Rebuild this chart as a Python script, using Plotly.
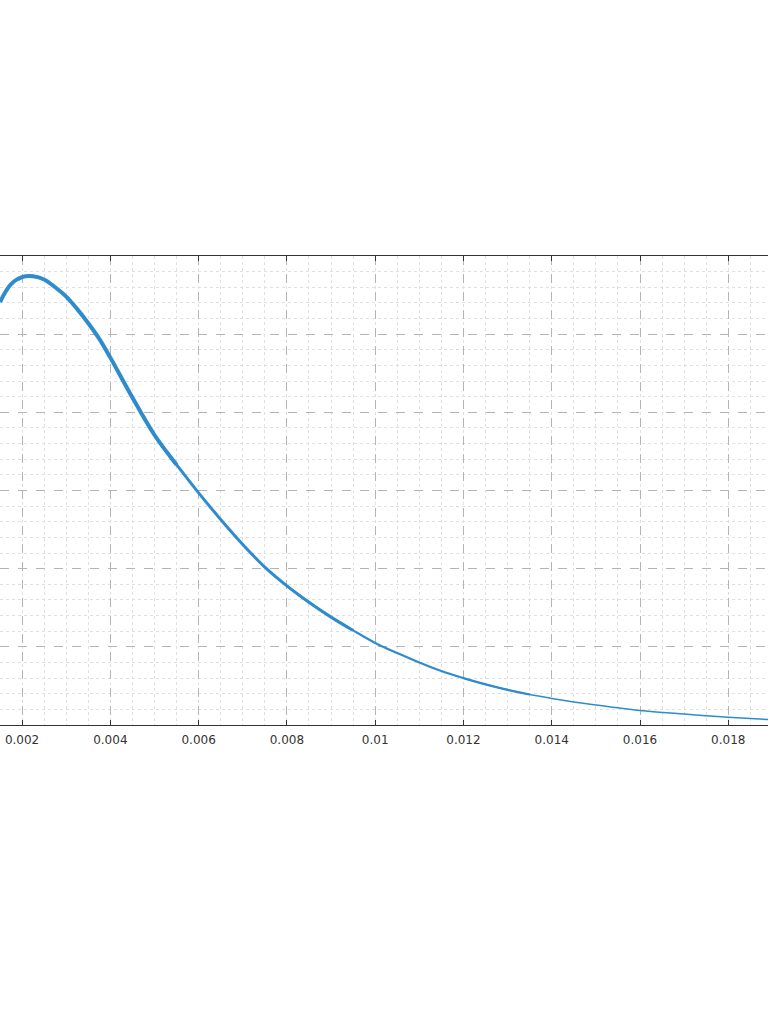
import plotly.graph_objects as go

# Curve samples
x_vals = [0.0015, 0.00175, 0.002, 0.00225, 0.0025, 0.00275, 0.003, 0.00325,
          0.0035, 0.00375, 0.004, 0.0045, 0.005, 0.0055, 0.006, 0.0065,
          0.007, 0.0075, 0.008, 0.0085, 0.009, 0.0095, 0.01, 0.0105, 0.011,
          0.0115, 0.012, 0.0125, 0.013, 0.0135, 0.014, 0.0145, 0.015, 0.0155,
          0.016, 0.017, 0.018, 0.0189]
y_vals = [5.41, 5.64, 5.73, 5.74, 5.70, 5.60, 5.48, 5.32,
          5.14, 4.94, 4.70, 4.19, 3.71, 3.33, 2.97, 2.63,
          2.31, 2.02, 1.78, 1.57, 1.38, 1.21, 1.05, 0.92, 0.80,
          0.69, 0.60, 0.52, 0.45, 0.39, 0.34, 0.295, 0.255, 0.22,
          0.185, 0.14, 0.10, 0.07]

x_tick_vals = [0.002, 0.004, 0.006, 0.008, 0.01, 0.012, 0.014, 0.016, 0.018]
x_tick_text = ["0.002", "0.004", "0.006", "0.008", "0.01", "0.012", "0.014", "0.016", "0.018"]

x_range = [0.0015, 0.0189]
y_range = [0, 6]

# the rippled line band gets thinner along the curve: (start, end, width)
# drawn thin first so the thicker pieces sit on top
segments = [(26, 38, 1.5), (18, 30, 2.2), (10, 22, 3.0), (0, 14, 4.0)]

fig = go.Figure()
for a, b, w in segments:
    fig.add_trace(go.Scatter(x=x_vals[a:b], y=y_vals[a:b], mode="lines",
                             line=dict(color="#2f8ccc", width=w, shape="spline",
                                       smoothing=1.0),
                             showlegend=False, hoverinfo="skip"))

fig.update_layout(
    width=768, height=1024,
    margin=dict(l=0, r=0, t=256, b=299, autoexpand=False),
    paper_bgcolor="white", plot_bgcolor="white",
    font=dict(family="DejaVu Sans", size=12, color="#333333"),
)
fig.update_xaxes(
    range=x_range, tickvals=x_tick_vals, ticktext=x_tick_text,
    automargin=False,
    showgrid=True, gridcolor="#b4b4b4", griddash="dash", gridwidth=1,
    minor=dict(dtick=0.0005, tick0=0, showgrid=True, gridcolor="#e0e0e0",
               griddash="dot", gridwidth=1),
    ticks="inside", ticklen=5, tickcolor="#333333", tickwidth=1,
    showline=True, linecolor="#333333", linewidth=1, mirror="ticks",
    zeroline=False, ticklabelstandoff=4,
)
fig.update_yaxes(
    range=y_range, dtick=1, tick0=0, automargin=False,
    showgrid=True, gridcolor="#b4b4b4", griddash="dash", gridwidth=1,
    minor=dict(dtick=0.2, tick0=0, showgrid=True, gridcolor="#e0e0e0",
               griddash="dot", gridwidth=1),
    showticklabels=False, ticks="", zeroline=False, showline=False,
)

fig.write_html("out.html",
               config={"displayModeBar": False},
               post_script="document.body.style.margin='0';"
                           "document.body.style.overflow='hidden';")
